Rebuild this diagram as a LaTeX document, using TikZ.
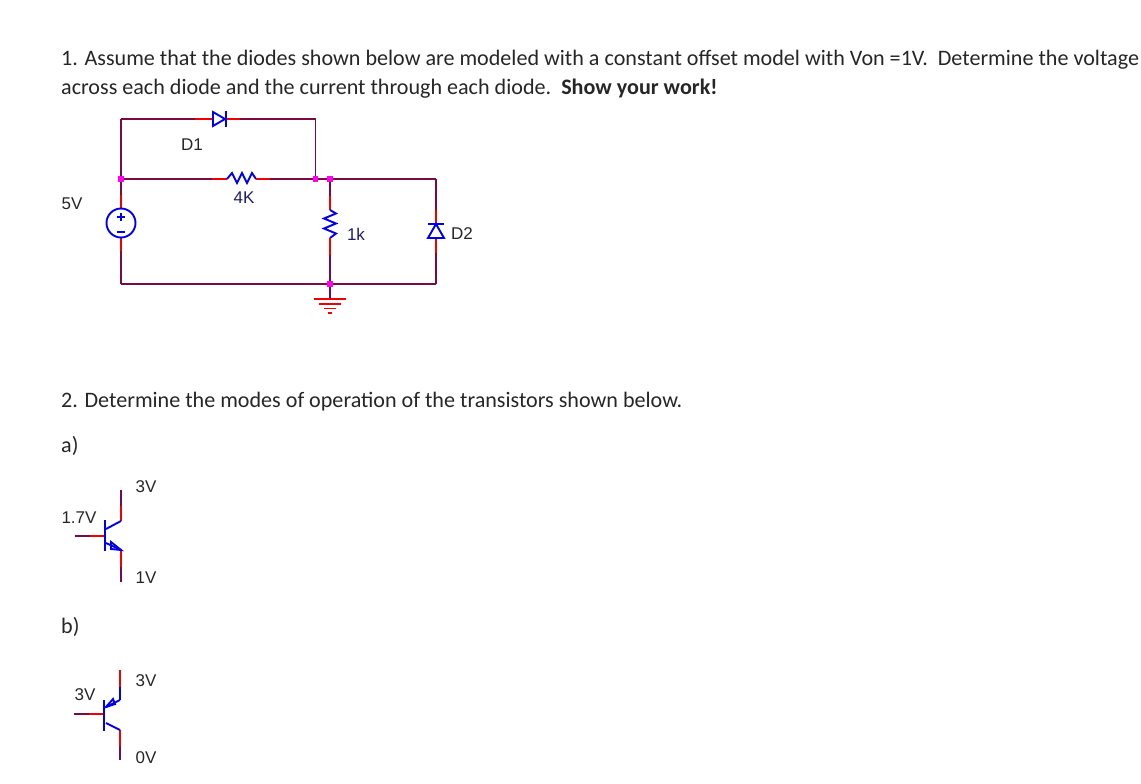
\documentclass[tikz,border=0pt]{standalone}
\usepackage{fontspec}
\setmainfont{Carlito}
\newfontfamily\labelfont{Liberation Sans}
\usetikzlibrary{arrows, calc}
\definecolor{wirecol}{HTML}{7A0A46}
\definecolor{symcol}{HTML}{0000F0}
\definecolor{leadcol}{HTML}{F00000}
\definecolor{junccol}{HTML}{FF00F0}
\definecolor{valcol}{HTML}{1C1C70}

\begin{document}
\begin{tikzpicture}[x=1pt, y=-1pt, node distance=100pt, line join=miter]
% Styles
\tikzstyle{wire} = [draw=wirecol, line width=1.9pt]
\tikzstyle{lead} = [draw=leadcol, line width=1.9pt]
\tikzstyle{sym} = [draw=symcol, line width=1.9pt]
\tikzstyle{junc} = [rectangle, fill=junccol, minimum size=5.5pt, inner sep=0pt, outer sep=0pt]
\tikzstyle{para} = [font=\fontsize{22.1}{24}\selectfont, anchor=base west, inner sep=0pt, text=black!85]
\tikzstyle{lbl} = [font=\labelfont\fontsize{17}{18}\selectfont, inner sep=0pt, text=black!85]
\tikzstyle{val} = [font=\labelfont\fontsize{17}{18}\selectfont, inner sep=0pt, text=valcol]
\useasboundingbox (0,0) rectangle (1141,784);

% Text
\node (q1a) [para] at (61,66) {1. Assume that the diodes shown below are modeled with a constant offset model with Von =1V.\ \ Determine the voltage};
\node (q1b) [para] at (61,95) {across each diode and the current through each diode.\ \ \textbf{Show your work!}};
\node (q2) [para] at (61,407) {2. Determine the modes of operation of the transistors shown below.};
\node (qa) [para] at (61,452) {a)};
\node (qb) [para] at (61,633) {b)};

% Junctions
\node (j1) [junc] at (121,179) {};
\node (j2) [junc, right of=j1, xshift=94.5pt] {};
\node (j3) [junc, right of=j2, xshift=-85.5pt] {};
\node (j4) [junc, below of=j3, yshift=-5pt] {};
\coordinate[above of=j1, yshift=-40pt] (c1);
\coordinate[above of=j2, yshift=-40pt] (c2);
\coordinate[right of=j3, xshift=6pt] (c3);
\coordinate[right of=j4, xshift=6pt] (c4);
\coordinate[left of=j4, xshift=-109pt] (c5);

% Source
\coordinate[below of=j1, yshift=56pt] (src_c);
\coordinate[above of=src_c, yshift=-72pt] (src_t);
\coordinate[below of=src_c, yshift=72pt] (src_b);
\draw [wire] (j1) -- (src_t);
\draw [lead] (src_t) -- (src_c);
\draw [lead] (src_c) -- (src_b);
\draw [wire] (src_b) -- (c5);
\node (src) [circle, sym, fill=white, minimum size=29pt, inner sep=0pt] at (src_c) {};
\draw [draw=symcol, line width=1.6pt] ($(src)+(-4,-6)$) -- ++(8,0) ($(src)+(0,-10)$) -- ++(0,8) ($(src)+(-4,9)$) -- ++(8,0);

% D1
\coordinate[right of=c1, xshift=-26pt] (d1_a);
\coordinate[right of=d1_a, xshift=-55pt] (d1_k);
\coordinate[right of=d1_a, xshift=-82pt] (d1_t);
\coordinate[right of=d1_a, xshift=-69pt] (d1_b);
\draw [wire] (c1) -- (d1_a);
\draw [lead] (d1_a) -- (d1_k);
\draw [wire] (d1_k) -- (c2);
\draw [wire] (c1) -- (j1);
\draw [wire] (c2) -- (j2);
\draw [sym, fill=white] (d1_t) ++(0,-7) -- ++(12,7) -- ++(-12,7) -- cycle;
\draw [sym] (d1_b) ++(0,-8) -- ++(0,16);

% 4K
\coordinate[right of=j1, xshift=-9pt] (r1_w);
\coordinate[right of=r1_w, xshift=-85pt] (r1_a);
\coordinate[right of=r1_a, xshift=-71pt] (r1_b);
\coordinate[right of=r1_b, xshift=-86pt] (r1_e);
\draw [wire] (j1) -- (r1_w);
\draw [lead] (r1_w) -- (r1_a);
\draw [sym] (r1_a) -- ++(5,-6) -- ++(5,10) -- ++(5,-10) -- ++(5,10) -- ++(5,-10) -- (r1_b);
\draw [lead] (r1_b) -- (r1_e);
\draw [wire] (r1_e) -- (j2);

% Right side
\draw [wire] (j2) -- (j3);
\draw [wire] (j3) -- (c3);
\draw [wire] (c4) -- (c5);

% 1k
\coordinate[below of=j3, yshift=83pt] (r2_w);
\coordinate[below of=r2_w, yshift=86pt] (r2_a);
\coordinate[below of=r2_a, yshift=72pt] (r2_b);
\coordinate[below of=r2_b, yshift=83pt] (r2_e);
\draw [wire] (j3) -- (r2_w);
\draw [lead] (r2_w) -- (r2_a);
\draw [sym] (r2_a) -- ++(6,3.5) -- ++(-12,5) -- ++(12,5) -- ++(-12,5) -- ++(12,5) -- (r2_b);
\draw [lead] (r2_b) -- (r2_e);
\draw [wire] (r2_e) -- (j4);

% D2
\coordinate[below of=c3, yshift=69pt] (d2_l);
\coordinate[below of=d2_l, yshift=86pt] (d2_t);
\coordinate[below of=d2_t, yshift=87pt] (d2_b);
\coordinate[below of=d2_b, yshift=84pt] (d2_e);
\draw [wire] (c3) -- (c4);
\draw [lead] (d2_l) -- (d2_e);
\draw [sym, fill=white] (d2_t) -- ++(8,14) -- ++(-16,0) -- cycle;
\draw [sym] (d2_t) ++(-8,0) -- ++(16,0);

% Ground
\coordinate[below of=j4, yshift=85pt] (gnd);
\draw [wire] (j4) -- (gnd);
\draw [lead] (gnd) ++(-16,0) -- ++(32,0) (gnd) ++(-11,5) -- ++(22,0) (gnd) ++(-6,9.5) -- ++(12,0) (gnd) ++(-2,14) -- ++(4,0);

% Junctions on top
\node [junc] at (j1) {};
\node [junc] at (j2) {};
\node [junc] at (j3) {};
\node [junc] at (j4) {};

% Circuit labels
\node (lab5v) [lbl] at (72,204) {5V};
\node (labd1) [lbl] at (192,145) {D1};
\node (lab4k) [val] at (244,198) {4K};
\node (lab1k) [val] at (356,234) {1k};
\node (labd2) [lbl] at (462,234) {D2};

% Transistor a
\node (ta_base) [lbl] at (79,518) {1.7V};
\node (ta_c) [lbl] at (146,487) {3V};
\node (ta_e) [lbl] at (146,578) {1V};
\coordinate (ta_in) at (75,536);
\coordinate[right of=ta_in, xshift=-85pt] (ta_r);
\coordinate[right of=ta_r, xshift=-85pt] (ta_m);
\coordinate (ta_ct) at (121,490);
\coordinate[below of=ta_ct, yshift=84pt] (ta_cr);
\coordinate[below of=ta_cr, yshift=85pt] (ta_cb);
\coordinate (ta_eb) at (121,582);
\coordinate[above of=ta_eb, yshift=-85pt] (ta_er);
\coordinate[above of=ta_er, yshift=-83pt] (ta_ee);
\draw [wire] (ta_in) -- (ta_r);
\draw [lead] (ta_r) -- (ta_m);
\draw [wire] (ta_ct) -- (ta_cr);
\draw [lead] (ta_cr) -- (ta_cb);
\draw [wire] (ta_eb) -- (ta_er);
\draw [lead] (ta_er) -- (ta_ee);
\draw [sym] (ta_m) ++(0,-16) -- ++(0,31);
\draw [sym] (ta_cb) -- ++(-15,8);
\draw [sym] (ta_ee) -- ++(-15,-7);
\draw [sym] (ta_ee) -- ++(-10,-8) -- ++(0,7) -- cycle;

% Transistor b
\node (tb_base) [lbl] at (85,695) {3V};
\node (tb_c) [lbl] at (146,681) {3V};
\node (tb_e) [lbl] at (146,758) {0V};
\coordinate (tb_in) at (74,714);
\coordinate[right of=tb_in, xshift=-85pt] (tb_r);
\coordinate[right of=tb_r, xshift=-85pt] (tb_m);
\coordinate (tb_ct) at (120,670);
\coordinate[below of=tb_ct, yshift=83pt] (tb_cr);
\coordinate[below of=tb_cr, yshift=87pt] (tb_cb);
\coordinate (tb_eb) at (120,760);
\coordinate[above of=tb_eb, yshift=-86pt] (tb_er);
\coordinate[above of=tb_er, yshift=-84pt] (tb_ee);
\draw [lead] (tb_ct) -- (tb_cr);
\draw [sym] (tb_cr) -- (tb_cb);
\draw [wire] (tb_in) -- (tb_r);
\draw [lead] (tb_r) -- (tb_m);
\draw [wire] (tb_eb) -- (tb_er);
\draw [lead] (tb_er) -- (tb_ee);
\draw [sym] (tb_m) ++(0,-14) -- ++(0,31);
\draw [sym] (tb_cb) -- ++(-14,7);
\draw [sym] (tb_ee) -- ++(-14,-7);
\draw [sym] (tb_cb) ++(-14,7) -- ++(7,-8) -- ++(2,5) -- cycle;
\end{tikzpicture}
\end{document}
